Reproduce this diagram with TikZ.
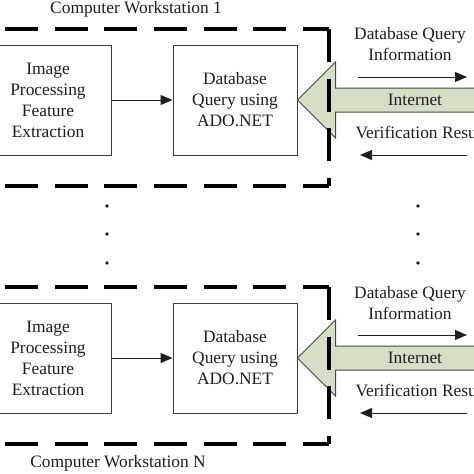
\documentclass[tikz,border=0pt]{standalone}
\usepackage{fontspec}
\setmainfont{Liberation Serif}
\usetikzlibrary{arrows.meta, calc}
\definecolor{cNet}{RGB}{215, 222, 200}
\definecolor{bNet}{RGB}{70, 72, 60}
\definecolor{bBox}{RGB}{60, 60, 60}
\definecolor{tDark}{RGB}{30, 30, 30}

\begin{document}
\begin{tikzpicture}[
    x=1pt, y=-1pt,
    font=\fontsize{17.4}{21}\selectfont,
    text=tDark,
    >={Triangle[length=12pt, width=10pt]},
    block/.style={
        draw=bBox,
        line width=1pt,
        align=center,
        minimum height=110pt,
        inner sep=0pt
    },
    frame/.style={line width=3.5pt, dash pattern=on 33pt off 16.67pt},
    arrow/.style={->, line width=1pt, color=tDark},
    netarrow/.style={draw=bNet, line width=1pt, fill=cNet, line join=miter},
    dot/.style={circle, fill=tDark, inner sep=0pt, minimum size=3.8pt}
]
\useasboundingbox (0,0) rectangle (474,474);
\clip (0,0) rectangle (474,474);

% Workstation 1
\node (ws1) at (136,9) {Computer Workstation 1};
\node[block, minimum width=126pt] (ip1) at (48,100) {Image\\Processing\\Feature\\Extraction};
\node[block, minimum width=124pt] (dq1) at (235,100) {Database\\Query using\\ADO.NET};
\draw[arrow] (ip1) -- (dq1);

\draw[netarrow] (dq1.east) -- ++(38,-38) -- ++(0,26) -- ++(160,0) -- ++(0,24)
    -- ++(-160,0) -- ++(0,26) -- cycle;
\node (net1) at (415,100) {Internet};

\draw[frame] (5,29) -- (329,29);
\draw[frame] (5,186) -- (329,186);
\draw[frame] (329,29) -- (329,186);

\node[align=center] (qi1) at (410,44) {Database Query\\Information};
\coordinate (qa1s) at (358,77);
\coordinate (qa1e) at (467,77);
\draw[arrow] (qa1s) -- (qa1e);
\node[anchor=west] (vr1) at (352,133) {Verification Results};
\coordinate (va1s) at (467,155);
\coordinate (va1e) at (360,155);
\draw[arrow] (va1s) -- (va1e);

% dots between the workstations
\foreach \y [count=\i] in {206,234,263} {
    \node[dot] (dl\i) at (107,\y) {};
    \node[dot] (dr\i) at (418,\y) {};
}

% Workstation N
\node[block, minimum width=126pt] (ip2) at (48,358) {Image\\Processing\\Feature\\Extraction};
\node[block, minimum width=124pt] (dq2) at (235,358) {Database\\Query using\\ADO.NET};
\draw[arrow] (ip2) -- (dq2);

\draw[netarrow] (dq2.east) -- ++(38,-38) -- ++(0,26) -- ++(160,0) -- ++(0,24)
    -- ++(-160,0) -- ++(0,26) -- cycle;
\node (net2) at (415,358) {Internet};

\draw[frame] (5,287) -- (329,287);
\draw[frame] (5,444) -- (329,444);
\draw[frame] (329,287) -- (329,444);

\node[align=center] (qi2) at (410,303) {Database Query\\Information};
\coordinate (qa2s) at (358,335);
\coordinate (qa2e) at (467,335);
\draw[arrow] (qa2s) -- (qa2e);
\node[anchor=west] (vr2) at (352,391) {Verification Results};
\coordinate (va2s) at (467,413);
\coordinate (va2e) at (360,413);
\draw[arrow] (va2s) -- (va2e);

\node (ws2) at (118,463) {Computer Workstation N};

\end{tikzpicture}
\end{document}
